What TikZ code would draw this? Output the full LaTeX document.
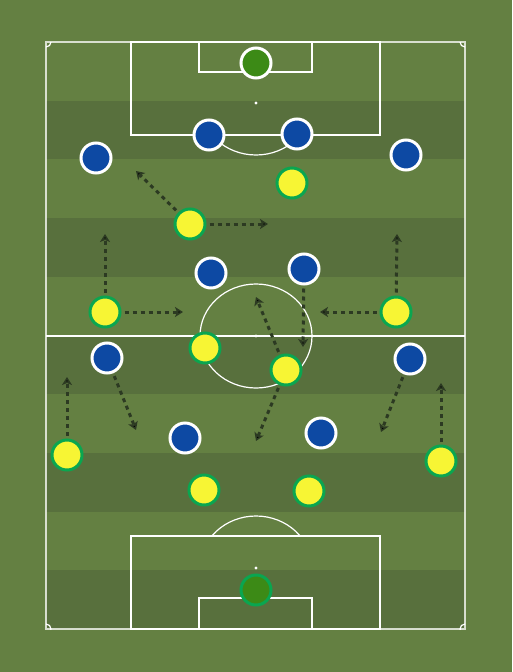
\documentclass[tikz,border=0pt]{standalone}
\usepackage{tikz}
\usetikzlibrary{arrows.meta}
\usetikzlibrary{calc}

\definecolor{grass}{RGB}{100,128,66}
\definecolor{grass_dark}{RGB}{88,112,61}
\definecolor{kit_blue}{RGB}{13,73,163}
\definecolor{kit_yellow}{RGB}{247,245,52}
\definecolor{ring_green}{RGB}{10,166,80}
\definecolor{keeper_green}{RGB}{60,138,22}
\definecolor{run_color}{RGB}{44,58,34}

\begin{document}
\begin{tikzpicture}[x=1pt, y=-1pt,
        line_style/.style={draw=white, line width=1.2pt},
        blue_style/.style={circle, draw=white, fill=kit_blue, line width=3pt, minimum size=30pt, inner sep=0pt},
        yellow_style/.style={circle, draw=ring_green, fill=kit_yellow, line width=3pt, minimum size=30pt, inner sep=0pt},
        keeper_style/.style={circle, fill=keeper_green, line width=3pt, minimum size=30pt, inner sep=0pt},
        run_style/.style={draw=run_color, line width=3pt, dash pattern=on 4pt off 4pt, shorten <=3pt, -{Stealth[length=8pt, width=10pt, inset=2pt]}}]

        % pitch
        \fill [grass] (0,0) rectangle (512,672);
        \useasboundingbox (0,0) rectangle (512,672);
        \foreach \i in {1,3,5,7,9}
            \fill [grass_dark] (46,{42+58.7*\i}) rectangle (465,{42+58.7*(\i+1)});

        \draw [line_style, draw opacity=0.75] (46,42) rectangle (465,629);
        \draw [line_style] (46,336) -- (465,336);
        \draw [line_style] (256,336) ellipse [x radius=56, y radius=52];
        \fill [white] (256,336) circle [radius=1.6];

        \draw [line_style] (131,42) rectangle (380,135);
        \draw [line_style] (199,42) rectangle (312,72);
        \fill [white] (256,103) circle [radius=1.6];
        \begin{scope}
            \clip (131,135) rectangle (380,200);
            \draw [line_style] (256,103) ellipse [x radius=56, y radius=52];
        \end{scope}

        \draw [line_style] (131,536) rectangle (380,629);
        \draw [line_style] (199,598) rectangle (312,629);
        \fill [white] (256,568) circle [radius=1.6];
        \begin{scope}
            \clip (131,470) rectangle (380,536);
            \draw [line_style] (256,568) ellipse [x radius=56, y radius=52];
        \end{scope}

        \begin{scope}
            \clip (46,42) rectangle (465,629);
            \foreach \cx/\cy in {46/42, 465/42, 46/629, 465/629}
                \draw [line_style] (\cx,\cy) circle [radius=5];
        \end{scope}

        % blue team
        \node [keeper_style, draw=white](b1) at (256,63) {};

        \node [blue_style](b2) at (209,135) {};

        \node [blue_style](b3) at (297,134) {};

        \node [blue_style](b4) at (96,158) {};

        \node [blue_style](b5) at (406,155) {};

        \node [blue_style](b6) at (211,273) {};

        \node [blue_style](b7) at (304,269) {};

        \node [blue_style](b8) at (107,358) {};

        \node [blue_style](b9) at (410,359) {};

        \node [blue_style](b10) at (185,438) {};

        \node [blue_style](b11) at (321,433) {};

        % yellow team
        \node [keeper_style, draw=ring_green](y1) at (256,590) {};

        \node [yellow_style](y2) at (204,490) {};

        \node [yellow_style](y3) at (309,491) {};

        \node [yellow_style](y4) at (67,455) {};

        \node [yellow_style](y5) at (441,461) {};

        \node [yellow_style](y6) at (205,348) {};

        \node [yellow_style](y7) at (286,370) {};

        \node [yellow_style](y8) at (105,312) {};

        \node [yellow_style](y9) at (396,312) {};

        \node [yellow_style](y10) at (190,224) {};

        \node [yellow_style](y11) at (292,183) {};

        % runs
        \coordinate (t1) at (136,171);
        \coordinate (t2) at (268,224);
        \coordinate (t3) at (105,234);
        \coordinate (t4) at (183,312);
        \coordinate (t5) at (320,312);
        \coordinate (t6) at (397,234);
        \coordinate (t7) at (256,297);
        \coordinate (t8) at (303,347);
        \coordinate (t9) at (136,430);
        \coordinate (t10) at (67,377);
        \coordinate (t11) at (256,441);
        \coordinate (t12) at (441,383);
        \coordinate (t13) at (381,432);

        \draw [run_style] (y10) edge (t1);

        \draw [run_style] (y10) edge (t2);

        \draw [run_style] (y8) edge (t3);

        \draw [run_style] (y8) edge (t4);

        \draw [run_style] (y9) edge (t5);

        \draw [run_style] (y9) edge (t6);

        \draw [run_style] (y7) edge (t7);

        \draw [run_style] (b7) edge (t8);

        \draw [run_style] (b8) edge (t9);

        \draw [run_style] (y4) edge (t10);

        \draw [run_style] (y7) edge (t11);

        \draw [run_style] (y5) edge (t12);

        \draw [run_style] (b9) edge (t13);

        \end{tikzpicture}
\end{document}
